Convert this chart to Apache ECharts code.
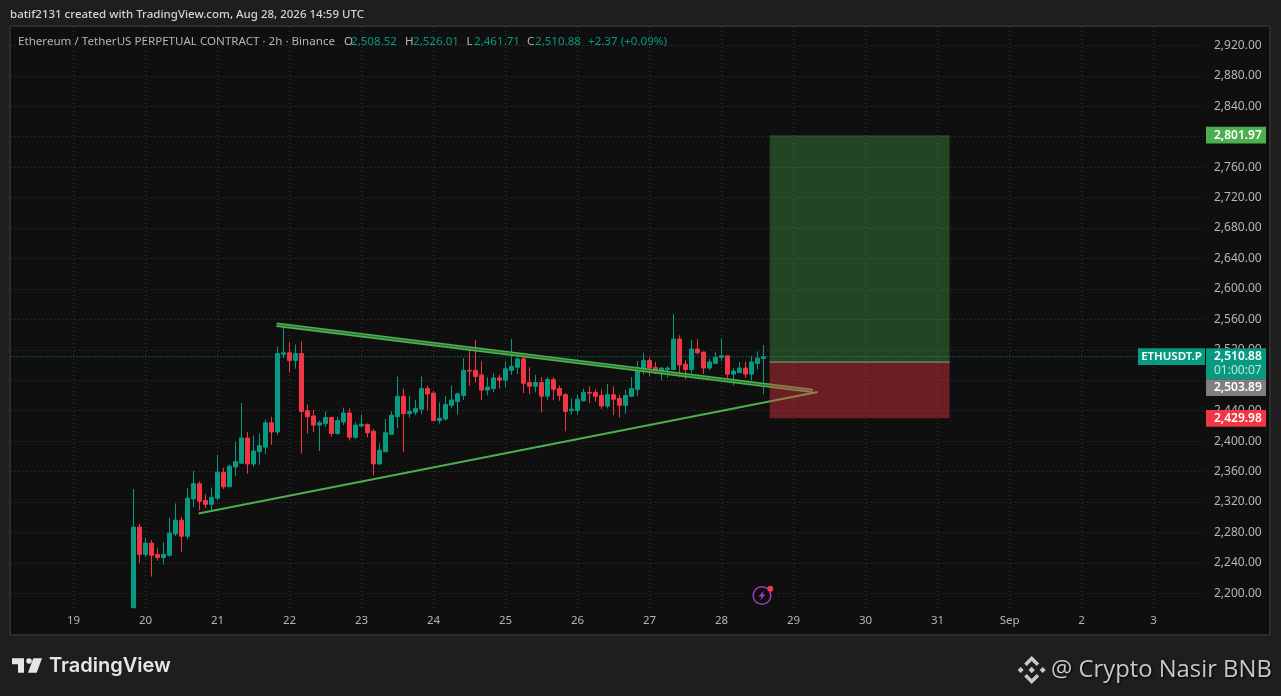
<!DOCTYPE html>
<html>
<head>
<meta charset="utf-8">
<style>html,body{margin:0;padding:0;background:#1e1e1e;overflow:hidden}#c{width:1281px;height:696px}</style>
<script src="https://cdn.jsdelivr.net/npm/echarts@6/dist/echarts.min.js"></script>
</head>
<body>
<div id="c"></div>
<script>
const opens=[2181,2287,2251,2266,2251,2247,2250,2278,2296,2275,2324,2344,2322,2317,2325,2359,2340,2366,2371,2404,2370,2386,2392,2424,2412,2514,2516,2506,2515,2440,2433,2421,2423,2431,2410,
2425,2437,2405,2420,2422,2413,2370,2386,2409,2432,2459,2436,2438,2442,2469,2463,2427,2429,2447,2452,2460,2493,2493,2487,2467,2469,2483,2480,2493,2497,2508,2477,2472,2477,2459,2481,
2469,2461,2440,2440,2453,2464,2464,2460,2446,2461,2456,2447,2459,2468,2494,2506,2497,2490,2494,2494,2534,2501,2494,2521,2517,2496,2502,2510,2512,2488,2490,2496,2488,2502,2508.52];
const highs=[2337,2291,2273,2270,2259,2267,2299,2318,2300,2338,2361,2347,2330,2339,2382,2365,2369,2399,2450,2412,2407,2410,2428,2432,2524,2550,2530,2527,2531,2448,2441,2427,2439,2432,2432,
2444,2443,2425,2435,2423,2416,2397,2429,2439,2485,2469,2459,2454,2485,2473,2466,2451,2459,2473,2464,2509,2520,2533,2505,2484,2489,2487,2505,2534,2510,2515,2497,2487,2484,2484,2484,
2473,2463,2456,2461,2469,2472,2468,2468,2475,2472,2461,2467,2484,2505,2516,2510,2504,2497,2498,2567,2539,2506,2533,2534,2517,2508,2517,2535,2512,2496,2504,2504,2512,2518,2526.01];
const lows=[2181,2240,2248,2222,2243,2238,2248,2275,2254,2271,2313,2309,2312,2307,2322,2337,2340,2354,2370,2357,2366,2369,2383,2395,2408,2509,2490,2495,2384,2410,2412,2387,2419,2406,2408,
2421,2401,2403,2418,2405,2355,2369,2386,2409,2417,2386,2431,2434,2435,2440,2426,2423,2427,2443,2435,2454,2473,2477,2454,2460,2464,2469,2471,2487,2488,2463,2462,2464,2438,2454,2454,
2453,2413,2435,2435,2452,2450,2452,2442,2443,2434,2431,2436,2458,2459,2487,2485,2488,2480,2483,2494,2484,2481,2489,2514,2488,2493,2502,2505,2483,2473,2490,2483,2480,2494,2461.71];
const closes=[2287,2251,2266,2250,2247,2251,2279,2296,2275,2325,2344,2321,2317,2326,2359,2340,2367,2373,2404,2370,2387,2394,2424,2412,2515,2516,2506,2515,2439,2432,2421,2424,2431,2410,2427,
2437,2405,2421,2422,2411,2370,2388,2411,2434,2459,2436,2439,2443,2469,2462,2427,2430,2448,2454,2462,2493,2492,2485,2467,2471,2483,2480,2495,2498,2508,2476,2472,2477,2459,2481,2468,
2460,2439,2442,2455,2464,2463,2459,2446,2461,2455,2447,2460,2469,2496,2506,2496,2490,2496,2496,2534,2500,2494,2521,2516,2496,2504,2510,2512,2488,2492,2496,2488,2504,2509,2510.88];

const slotCount=199, firstCandleSlot=20;
const dayLabels=['19','20','21','22','23','24','25','26','27','28','29','30','31','Sep','2','3'];
const firstDaySlot=10, slotsPerDay=12;
const priceTicks=[2200,2240,2280,2320,2360,2400,2440,2480,2520,2560,2600,2640,2680,2720,2760,2800,2840,2880,2920];
const priceLabels=[2200,2240,2280,2320,2360,2400,2440,2520,2560,2600,2640,2680,2720,2760,2840,2880,2920];
const lastPrice=2510.88, entryPrice=2503.89, stopPrice=2429.98, targetPrice=2801.97;
const positionSlots=[126,156];
const upperTrend=[[43.83,2553],[133.17,2466]];
const lowerTrend=[[30.83,2305],[134,2464.5]];
const legendTitle='Ethereum / TetherUS PERPETUAL CONTRACT · 2h · Binance';
const headerText='batif2131 created with TradingView.com, Aug 28, 2026 14:59 UTC';

const UP='#089981', DOWN='#F23645', LINE='#4caf50';
const categories=Array.from({length:slotCount},(_,i)=>{
  const d=(i-firstDaySlot)/slotsPerDay;
  return Number.isInteger(d)&&d>=0&&d<dayLabels.length?dayLabels[d]:'';
});
const ohlc=Array.from({length:slotCount},(_,i)=>{
  const k=i-firstCandleSlot;
  return k>=0&&k<opens.length?[opens[k],closes[k],lows[k],highs[k]]:'-';
});
const fmt=v=>v.toLocaleString('en-US',{minimumFractionDigits:2,maximumFractionDigits:2});
const FONT='"Noto Sans",sans-serif';
const slotLine=(name,data,style,z)=>({type:'line',name,xAxisIndex:1,yAxisIndex:0,data,symbol:'none',silent:true,animation:false,z,lineStyle:style,clip:true});
const xRange=[-0.5,slotCount-0.5];

const chart=echarts.init(document.getElementById('c'),null,{renderer:'canvas'});
chart.setOption({
  animation:false,
  backgroundColor:'#1e1e1e',
  grid:{left:10.6,top:27,width:1194,height:581,containLabel:false},
  xAxis:[
    {type:'category',data:categories,boundaryGap:true,
     axisLine:{show:false},axisTick:{show:false},
     axisLabel:{color:'#b2b5be',fontFamily:FONT,fontSize:11.5,margin:7,interval:(i,v)=>v!==''},
     splitLine:{show:true,alignWithLabel:true,interval:(i,v)=>v!=='',lineStyle:{color:'#3a3a3a',type:[1,3],width:1}}},
    {type:'value',min:xRange[0],max:xRange[1],show:false,splitLine:{show:false}}
  ],
  yAxis:[{type:'value',position:'right',min:2180.7,max:2944.1,
    axisLine:{show:false},
    axisTick:{show:false,customValues:priceTicks},
    axisLabel:{color:'#b2b5be',fontFamily:FONT,fontSize:12,margin:9.4,customValues:priceLabels,formatter:v=>fmt(v)},
    splitLine:{show:true,lineStyle:{color:'#3a3a3a',type:[1,3],width:1}}}],
  series:[
    {type:'candlestick',xAxisIndex:0,yAxisIndex:0,data:ohlc,barWidth:4,z:2,silent:true,clip:true,
     itemStyle:{color:UP,color0:DOWN,borderColor:UP,borderColor0:DOWN,borderWidth:1}},
    slotLine('last',[[xRange[0],lastPrice],[xRange[1],lastPrice]],{color:UP,width:1,type:[1,2]},3),
    slotLine('upperOuter',upperTrend,{color:LINE,width:4.5},4),
    slotLine('upperInner',upperTrend,{color:'#2f7033',width:1.2},5),
    slotLine('lower',lowerTrend,{color:LINE,width:2},4),
    {type:'line',name:'position',xAxisIndex:1,yAxisIndex:0,data:[],symbol:'none',silent:true,z:6,
     markArea:{silent:true,z:6,data:[
       [{coord:[positionSlots[0],targetPrice],itemStyle:{color:'rgba(76,175,80,0.34)'}},{coord:[positionSlots[1],entryPrice]}],
       [{coord:[positionSlots[0],entryPrice],itemStyle:{color:'rgba(242,54,69,0.40)'}},{coord:[positionSlots[1],stopPrice]}]
     ]}},
    slotLine('entry',[[positionSlots[0],entryPrice],[positionSlots[1],entryPrice]],{color:'#9a9a9a',width:1},7)
  ]
});

const py=p=>chart.convertToPixel({yAxisIndex:0},p);
const txt=(x,y,text,fill,opt={})=>({type:'text',x,y,z:opt.z||50,style:Object.assign({text,fill,font:(opt.font||'11.6px '+FONT),textAlign:opt.align||'left',textVerticalAlign:'middle'},opt.style||{})});
const box=(x,y,w,h,fill,z=40)=>({type:'rect',x,y,z,shape:{x:0,y:0,width:w,height:h},style:{fill}});
const poly=(pts,fill,z=50)=>({type:'polygon',z,shape:{points:pts},style:{fill}});
const diamond=(cx,cy,r,fill)=>poly([[cx,cy-r],[cx+r,cy],[cx,cy+r],[cx-r,cy]],fill);
const TAGX=1206,TAGW=60,TAGTX=1214,BOLD='600 12px '+FONT;
const lastY=py(lastPrice), stopY=py(stopPrice), targetY=py(targetPrice);
const G='#089981';
const elements=[
  {type:'rect',z:-10,shape:{x:10,y:26,width:1260,height:609},style:{fill:'#0f0f0f',stroke:'#2c2c2c',lineWidth:2}},
  txt(10,15,headerText,'#d1d4dc',{font:'500 11.5px '+FONT}),
  txt(18,42,legendTitle,'#b2b5be'),
  txt(344,42,'O','#b2b5be'),txt(351,42,'2,508.52',G),
  txt(405,42,'H','#b2b5be'),txt(413,42,'2,526.01',G),
  txt(466.5,42,'L','#b2b5be'),txt(474,42,'2,461.71',G),
  txt(527,42,'C','#b2b5be'),txt(535,42,'2,510.88',G),
  txt(588,42,'+2.37 (+0.09%)',G),
  // price tags
  box(1138,lastY-8.4,67,16.6,G),
  txt(1171.5,lastY,'ETHUSDT.P','#ffffff',{font:'600 11.5px '+FONT,align:'center'}),
  box(TAGX,lastY-8.4,TAGW,31,G),
  txt(TAGTX,lastY-0.4,fmt(lastPrice),'#ffffff',{font:BOLD}),
  txt(TAGTX,lastY+14,'01:00:07','#bfe6dc',{font:'12px '+FONT}),
  box(TAGX,lastY+22.6,TAGW,16.7,'#808080'),
  txt(TAGTX,lastY+31,fmt(entryPrice),'#ffffff',{font:BOLD}),
  box(TAGX,stopY-8.3,TAGW,16.7,DOWN),
  txt(TAGTX,stopY,fmt(stopPrice),'#ffffff',{font:BOLD}),
  box(TAGX,targetY-8.3,TAGW,16.7,LINE),
  txt(TAGTX,targetY,fmt(targetPrice),'#ffffff',{font:BOLD}),
  // lightning badge
  {type:'circle',z:30,shape:{cx:762,cy:595.5,r:15},style:{fill:'#0f0f0f'}},
  {type:'circle',z:31,shape:{cx:762,cy:595.5,r:8.8},style:{fill:'none',stroke:'#9c3fc0',lineWidth:1.5}},
  poly([[764,590.5],[758.5,596.5],[761.5,596.5],[760,600.5],[765.5,594.5],[762.5,594.5]],'#9c3fc0',32),
  {type:'circle',z:33,shape:{cx:770.3,cy:588.7,r:3},style:{fill:DOWN}},
  // TradingView logo
  poly([[12,658.3],[24,658.3],[24,672.7],[18,672.7],[18,664.2],[12,664.2]],'#e6e6e6'),
  {type:'circle',z:50,shape:{cx:29,cy:661,r:2.8},style:{fill:'#e6e6e6'}},
  poly([[33.3,658.3],[42,658.3],[36.7,672.7],[28,672.7]],'#e6e6e6'),
  txt(49,666,'TradingView','#e6e6e6',{font:'600 20px Inter,sans-serif'}),
  // watermark
  diamond(1031.7,670,3.2,'#c9c9c9'),diamond(1020.7,670,3,'#c9c9c9'),diamond(1042.7,670,3,'#c9c9c9'),
  poly([[1031.7,656],[1039.2,663.5],[1036.7,666],[1031.7,661],[1026.7,666],[1024.2,663.5]],'#c9c9c9'),
  poly([[1031.7,684],[1039.2,676.5],[1036.7,674],[1031.7,679],[1026.7,674],[1024.2,676.5]],'#c9c9c9'),
  txt(1051,670,'@ Crypto Nasir BNB','#c8c8c8',{font:'23.8px "Open Sans",sans-serif',style:{textShadowColor:'#000',textShadowBlur:2,textShadowOffsetX:1,textShadowOffsetY:1}})
];
chart.setOption({graphic:{elements}});
</script>
</body>
</html>
